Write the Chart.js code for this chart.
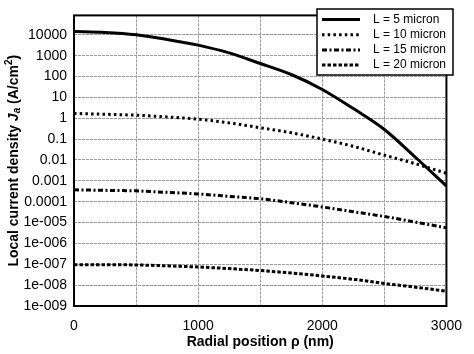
<!DOCTYPE html>
<html><head><meta charset="utf-8">
<script src="https://cdn.jsdelivr.net/npm/chart.js@4.4.1/dist/chart.umd.min.js"></script>
<style>html,body{margin:0;padding:0;background:#fff}#wrap{width:474px;height:354px}</style>
</head><body><div id="wrap"><canvas id="c" width="474" height="354"></canvas></div>
<script>
const radialPositions = [0, 250, 500, 750, 1000, 1250, 1500, 1750, 2000, 2250, 2500, 2750, 3000];
const seriesLabels = ['L = 5 micron', 'L = 10 micron', 'L = 15 micron', 'L = 20 micron'];
const densityL5  = [14500, 13000, 10000, 6000, 3200, 1350, 420, 125, 24, 2.9, 0.29, 0.0135, 0.00056];
const densityL10 = [1.7, 1.55, 1.4, 1.15, 0.9, 0.6, 0.35, 0.2, 0.1, 0.045, 0.017, 0.0066, 0.0023];
const densityL15 = [3.7e-4, 3.5e-4, 3.3e-4, 2.8e-4, 2.35e-4, 1.8e-4, 1.38e-4, 9.0e-5, 5.6e-5, 3.3e-5, 1.95e-5, 1.05e-5, 5.6e-6];
const densityL20 = [9.5e-8, 9.5e-8, 9.3e-8, 8.4e-8, 7.4e-8, 6.2e-8, 5.0e-8, 3.8e-8, 2.75e-8, 1.9e-8, 1.2e-8, 8.0e-9, 5.1e-9];
const yTickValues = [1e-9, 1e-8, 1e-7, 1e-6, 1e-5, 1e-4, 1e-3, 1e-2, 1e-1, 1, 10, 100, 1000, 10000];
const yTickLabels = ['1e-009', '1e-008', '1e-007', '1e-006', '1e-005', '0.0001', '0.001', '0.01', '0.1', '1', '10', '100', '1000', '10000'];
const xLabelValues = [0, 1000, 2000, 3000];
const xTickLabels = ['0', '1000', '2000', '3000'];
const xAxisTitle = 'Radial position \u03C1 (nm)';

const allSeries = [densityL5, densityL10, densityL15, densityL20];
const dashes = [[], [2.5, 3.2], [5, 2.5, 2, 2.5], [3.5, 2]];
const FAM = '"Liberation Sans", Arial, sans-serif';

const datasets = allSeries.map((vals, i) => ({
  label: seriesLabels[i],
  data: radialPositions.map((x, j) => ({x: x, y: vals[j]})),
  borderColor: '#000',
  borderWidth: 3,
  borderDash: dashes[i],
  pointRadius: 0,
  fill: false,
  cubicInterpolationMode: 'monotone'
}));

const framePlugin = {
  id: 'frame',
  afterDraw(chart) {
    const {ctx, chartArea: a} = chart;
    ctx.save();
    ctx.strokeStyle = '#000';
    ctx.lineWidth = 2;
    ctx.strokeRect(a.left, a.top, a.right - a.left, a.bottom - a.top);
    ctx.restore();
  }
};

const legendPlugin = {
  id: 'boxLegend',
  afterDraw(chart) {
    const ctx = chart.ctx;
    const bx = 317, by = 9, bw = 136, bh = 66;
    ctx.save();
    ctx.fillStyle = '#fff';
    ctx.fillRect(bx, by, bw, bh);
    ctx.strokeStyle = '#000';
    ctx.lineWidth = 1.5;
    ctx.strokeRect(bx, by, bw, bh);
    ctx.font = '12px ' + FAM;
    ctx.textBaseline = 'middle';
    ctx.fillStyle = '#000';
    chart.data.datasets.forEach((ds, i) => {
      const y = by + 10.5 + i * 15.2;
      ctx.beginPath();
      ctx.setLineDash(ds.borderDash || []);
      ctx.lineWidth = 3;
      ctx.moveTo(322, y);
      ctx.lineTo(360, y);
      ctx.stroke();
      ctx.setLineDash([]);
      ctx.fillText(ds.label, 373, y);
    });
    ctx.restore();
  }
};

const yTitlePlugin = {
  id: 'yTitle',
  afterDraw(chart) {
    const ctx = chart.ctx;
    const a = chart.chartArea;
    const parts = [
      {t: 'Local current density ', f: 'bold 14px ' + FAM, dy: 0},
      {t: 'J', f: 'italic bold 14px ' + FAM, dy: 0},
      {t: 'a', f: 'italic bold 10px ' + FAM, dy: 3},
      {t: ' (A/cm', f: 'bold 14px ' + FAM, dy: 0},
      {t: '2', f: 'bold 10px ' + FAM, dy: -5},
      {t: ')', f: 'bold 14px ' + FAM, dy: 0}
    ];
    ctx.save();
    let total = 0;
    parts.forEach(p => { ctx.font = p.f; p.w = ctx.measureText(p.t).width; total += p.w; });
    ctx.translate(14, (a.top + a.bottom) / 2);
    ctx.rotate(-Math.PI / 2);
    ctx.fillStyle = '#000';
    ctx.textBaseline = 'middle';
    let x = -total / 2;
    parts.forEach(p => { ctx.font = p.f; ctx.fillText(p.t, x, p.dy); x += p.w; });
    ctx.restore();
  }
};

new Chart(document.getElementById('c'), {
  type: 'line',
  data: {datasets: datasets},
  options: {
    responsive: false,
    animation: false,
    devicePixelRatio: 1,
    layout: {padding: {top: 5, right: 19, left: 0, bottom: 0}},
    plugins: {legend: {display: false}, tooltip: {enabled: false}},
    scales: {
      x: {
        type: 'linear',
        min: 0, max: 3000,
        afterFit(s) { s.height = 48; },
        ticks: {
          stepSize: 500,
          autoSkip: false,
          maxRotation: 0,
          color: '#000',
          padding: 12,
          font: {size: 14, family: FAM},
          callback(v) { const k = xLabelValues.indexOf(v); return k >= 0 ? xTickLabels[k] : ''; }
        },
        grid: {color: '#9a9a9a', lineWidth: 1, drawTicks: false},
        border: {display: false, dash: [3, 1]},
        title: {
          display: true,
          text: xAxisTitle,
          color: '#000',
          padding: {top: 0, bottom: 3},
          font: {size: 14, weight: 'bold', family: FAM}
        }
      },
      y: {
        type: 'logarithmic',
        min: 1e-9, max: 85000,
        afterFit(s) { s.width = 74; },
        afterBuildTicks(s) { s.ticks = yTickValues.map(v => ({value: v})); },
        ticks: {
          autoSkip: false,
          color: '#000',
          padding: 7,
          font: {size: 14, family: FAM},
          callback(v, i) { return yTickLabels[i]; }
        },
        grid: {color: '#9a9a9a', lineWidth: 1, drawTicks: false},
        border: {display: false, dash: [3, 1]}
      }
    }
  },
  plugins: [framePlugin, legendPlugin, yTitlePlugin]
});
</script>
</body></html>
